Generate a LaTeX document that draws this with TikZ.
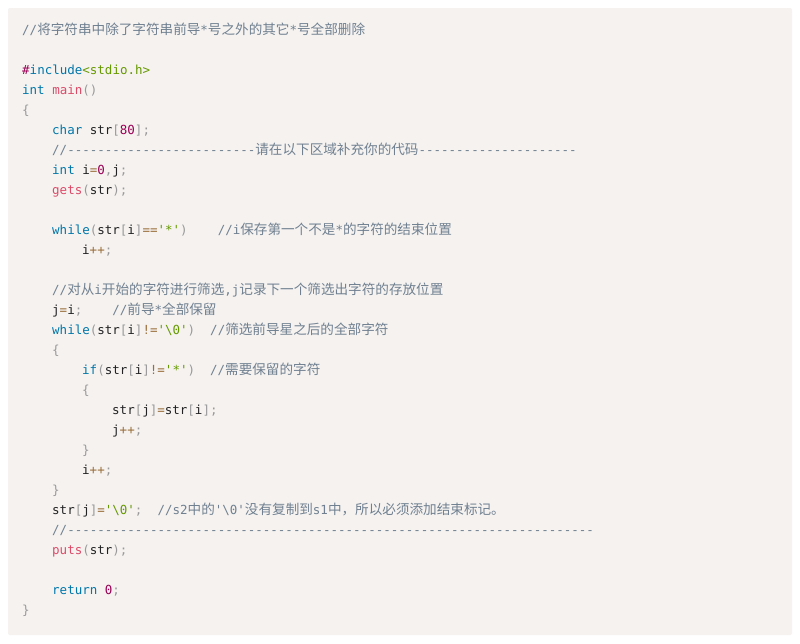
\documentclass[tikz,border=0pt]{standalone}
\usepackage{fontspec}
\setmonofont{DejaVu Sans Mono}
\newfontfamily\cjk{Noto Sans CJK SC}
\definecolor{bgc}{HTML}{F5F2F0}
\definecolor{kwc}{HTML}{0077AA}
\definecolor{fnc}{HTML}{DD4A68}
\definecolor{nmc}{HTML}{990055}
\definecolor{sgc}{HTML}{669900}
\definecolor{opc}{HTML}{9A6E3A}
\definecolor{pnc}{HTML}{999999}
\definecolor{cmc}{HTML}{708090}
\definecolor{txc}{HTML}{222222}
\newcommand\Kw[1]{\textcolor{kwc}{#1}}
\newcommand\Fn[1]{\textcolor{fnc}{#1}}
\newcommand\Nm[1]{\textcolor{nmc}{#1}}
\newcommand\Sg[1]{\textcolor{sgc}{#1}}
\newcommand\Op[1]{\textcolor{opc}{#1}}
\newcommand\Pn[1]{\textcolor{pnc}{#1}}
\newcommand\Cm[1]{\textcolor{cmc}{#1}}
\newcommand\Zh[1]{{\cjk\fontsize{13.6}{14}\selectfont #1}}
\newcommand\BS{\textbackslash}
\begin{document}
\begin{tikzpicture}[x=1pt,y=-1pt,
  ln/.style={anchor=base west,inner sep=0pt,font=\ttfamily\fontsize{12.5}{14}\selectfont,text=txc}]
\useasboundingbox (0,0) rectangle (800,643);
\fill[white] (0,0) rectangle (800,643);
\fill[bgc,rounded corners=2pt] (8,8) rectangle (792,635);
\node[ln] (l1) at (22,34) {\Cm{//\Zh{将字符串中除了字符串前导}*\Zh{号之外的其它}*\Zh{号全部删除}}};
\node[ln] (l2) at (22,74) {\Nm{\#}\Kw{include}\Sg{<stdio.h>}};
\node[ln] (l3) at (22,94) {\Kw{int} \Fn{main}\Pn{()}};
\node[ln] (l4) at (22,114) {\Pn{\{}};
\node[ln] (l5) at (52,134) {\Kw{char} str\Pn{[}\Nm{80}\Pn{];}};
\node[ln] (l6) at (52,154) {\Cm{//-------------------------\Zh{请在以下区域补充你的代码}---------------------}};
\node[ln] (l7) at (52,174) {\Kw{int} i\Op{=}\Nm{0}\Pn{,}j\Pn{;}};
\node[ln] (l8) at (52,194) {\Fn{gets}\Pn{(}str\Pn{);}};
\node[ln] (l9) at (52,234) {\Kw{while}\Pn{(}str\Pn{[}i\Pn{]}\Op{==}\Sg{'*'}\Pn{)}\ \ \ \ \Cm{//i\Zh{保存第一个不是}*\Zh{的字符的结束位置}}};
\node[ln] (l10) at (82,254) {i\Op{++}\Pn{;}};
\node[ln] (l11) at (52,294) {\Cm{//\Zh{对从}i\Zh{开始的字符进行筛选},j\Zh{记录下一个筛选出字符的存放位置}}};
\node[ln] (l12) at (52,314) {j\Op{=}i\Pn{;}\ \ \ \ \Cm{//\Zh{前导}*\Zh{全部保留}}};
\node[ln] (l13) at (52,334) {\Kw{while}\Pn{(}str\Pn{[}i\Pn{]}\Op{!=}\Sg{'\BS0'}\Pn{)}\ \ \Cm{//\Zh{筛选前导星之后的全部字符}}};
\node[ln] (l14) at (52,354) {\Pn{\{}};
\node[ln] (l15) at (82,374) {\Kw{if}\Pn{(}str\Pn{[}i\Pn{]}\Op{!=}\Sg{'*'}\Pn{)}\ \ \Cm{//\Zh{需要保留的字符}}};
\node[ln] (l16) at (82,394) {\Pn{\{}};
\node[ln] (l17) at (112,414) {str\Pn{[}j\Pn{]}\Op{=}str\Pn{[}i\Pn{];}};
\node[ln] (l18) at (112,434) {j\Op{++}\Pn{;}};
\node[ln] (l19) at (82,454) {\Pn{\}}};
\node[ln] (l20) at (82,474) {i\Op{++}\Pn{;}};
\node[ln] (l21) at (52,494) {\Pn{\}}};
\node[ln] (l22) at (52,514) {str\Pn{[}j\Pn{]}\Op{=}\Sg{'\BS0'}\Pn{;}\ \ \Cm{//s2\Zh{中的}'\BS0'\Zh{没有复制到}s1\Zh{中，所以必须添加结束标记。}}};
\node[ln] (l23) at (52,534) {\Cm{//----------------------------------------------------------------------}};
\node[ln] (l24) at (52,554) {\Fn{puts}\Pn{(}str\Pn{);}};
\node[ln] (l25) at (52,594) {\Kw{return} \Nm{0}\Pn{;}};
\node[ln] (l26) at (22,614) {\Pn{\}}};
\end{tikzpicture}
\end{document}
